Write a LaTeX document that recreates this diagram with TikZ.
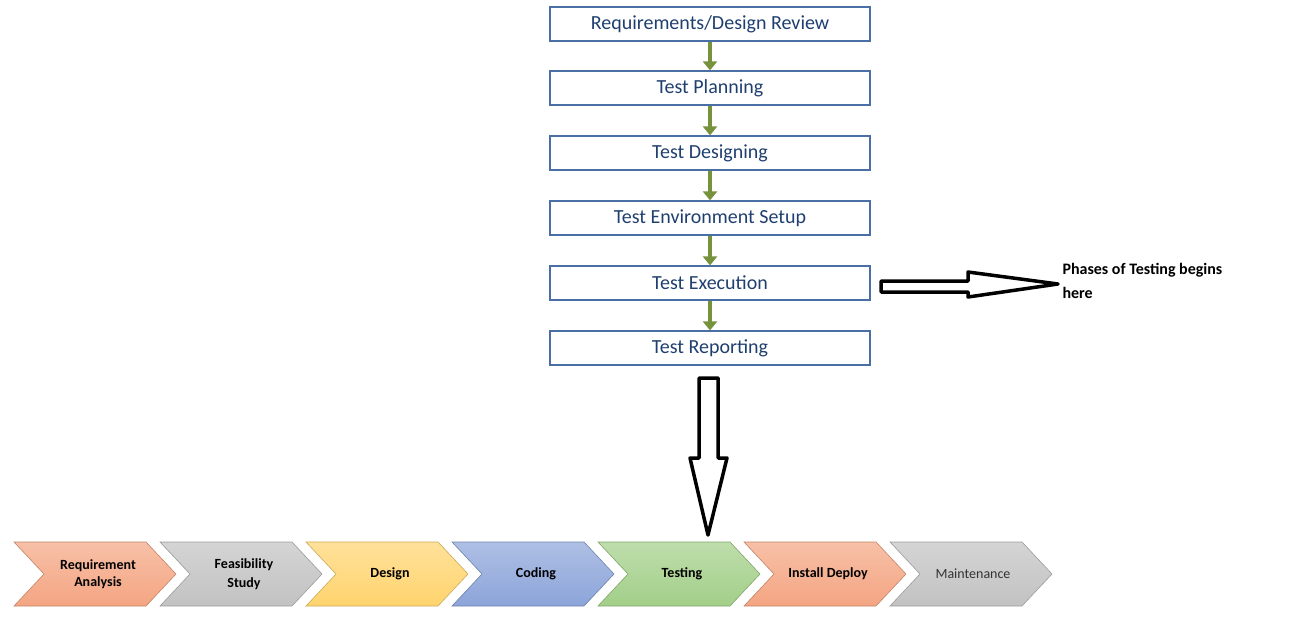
\documentclass[tikz,border=0pt]{standalone}
\usepackage{fontspec}
\setmainfont{Carlito}
\usetikzlibrary{arrows.meta}
\definecolor{boxtxt}{HTML}{1F3F6F}
\definecolor{boxline}{HTML}{4A6FA5}
\definecolor{garrow}{HTML}{76923C}
\tikzset{
 box/.style={draw=boxline,line width=1.2pt,minimum width=320pt,minimum height=34pt,inner sep=0pt,text=boxtxt,font=\fontsize{20}{22}\selectfont},
 garr/.style={draw=garrow,line width=3.5pt,-{Triangle[length=9pt,width=14pt]}},
 chev/.style={draw=#1!80!black,line width=0.6pt,top color=#1!70,bottom color=#1},
 ctext/.style={font=\fontsize{14}{17}\selectfont\bfseries,align=center}
}
\definecolor{corange}{HTML}{F4A582}
\definecolor{cgray}{HTML}{C2C2C2}
\definecolor{cyellow}{HTML}{FFD46E}
\definecolor{cblue}{HTML}{8CA4D9}
\definecolor{cgreen}{HTML}{A2CF88}
\begin{document}
\begin{tikzpicture}[x=1pt,y=-1pt]
\useasboundingbox (0,0) rectangle (1292,626);
\node[box] (b1) at (710,24) {Requirements/Design Review};
\node[box] (b2) at (710,88) {Test Planning};
\node[box] (b3) at (710,153) {Test Designing};
\node[box] (b4) at (710,218) {Test Environment Setup};
\node[box] (b5) at (710,283) {Test Execution};
\node[box] (b6) at (710,348) {Test Reporting};
\foreach \a/\b in {b1/b2,b2/b3,b3/b4,b4/b5,b5/b6}
  \draw[garr] (\a.south) -- (\b.north);
% right hollow arrow
\draw[line width=3.5pt,line join=round,fill=white] (881,281) -- (968,281) -- (968,272) -- (1058,284) -- (968,297) -- (968,292) -- (881,292) -- cycle;
\node[anchor=north west,align=left,font=\fontsize{16}{24}\selectfont\bfseries] (lbl) at (1059,260) {Phases of Testing begins\\here};
% down hollow arrow
\draw[line width=3.5pt,line join=round,fill=white] (699,378) -- (718,378) -- (718,458) -- (727,458) -- (708,535) -- (690,458) -- (699,458) -- cycle;
% chevrons
\foreach \x/\c/\t/\n in {14/corange/{Requirement\\Analysis}/c1,160/cgray/{Feasibility\\[2pt]Study}/c2,306/cyellow/Design/c3,452/cblue/Coding/c4,598/cgreen/Testing/c5,744/corange/Install Deploy/c6}{
  \draw[chev=\c] (\x,542) -- (\x+132,542) -- (\x+162,574) -- (\x+132,606) -- (\x,606) -- (\x+30,574) -- cycle;
  \node[ctext] (\n) at (\x+84,574) {\t};
}
\draw[chev=cgray] (890,542) -- (1022,542) -- (1052,574) -- (1022,606) -- (890,606) -- (920,574) -- cycle;
\node[font=\fontsize{14}{17}\selectfont,text=black!80] (c7) at (973,574) {Maintenance};
\end{tikzpicture}
\end{document}
